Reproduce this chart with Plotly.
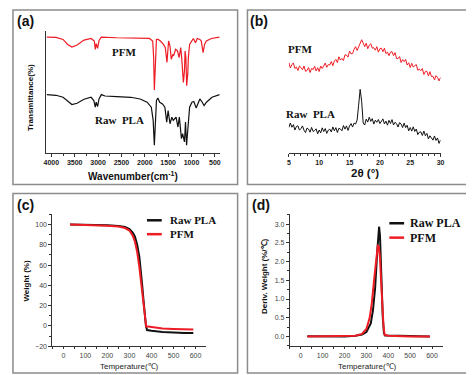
import plotly.graph_objects as go

W, H = 474, 375
RED = "#ee1c24"
BLACK = "#111111"
SANS = "Liberation Sans, Arial, sans-serif"
SERIF = "Liberation Serif, Times New Roman, serif"

# ---------------- (a) FTIR ----------------
ftir_pla_wn = [4100, 3900, 3750, 3650, 3560, 3450, 3300, 3150, 3090, 3060, 3040, 3010, 2980, 2930,
               2850, 2600, 2300, 2100, 1950, 1860, 1820, 1795, 1775, 1750, 1720, 1680, 1620, 1570,
               1530, 1500, 1460, 1420, 1390, 1330, 1290, 1260, 1215, 1190, 1150, 1128, 1105, 1075,
               1040, 990, 950, 900, 870, 820, 770, 730, 680, 560, 400]
ftir_pla_t = [58.7, 58.0, 56.0, 52.0, 48.7, 50.0, 54.0, 56.0, 52.7, 46.0, 51.0, 46.7, 54.3, 58.7,
              57.3, 56.7, 56.0, 54.3, 51.0, 46.0, 32.7, 7.7, 36.0, 52.7, 55.3, 51.0, 49.3, 46.0,
              31.0, 42.7, 29.3, 36.0, 32.7, 36.0, 26.0, 36.0, 14.3, 19.3, 11.0, 31.0, 7.7, 26.0,
              46.0, 51.0, 51.7, 45.3, 49.3, 54.3, 51.0, 47.7, 51.0, 56.0, 58.7]
ftir_pfm_wn = [4100, 3900, 3750, 3650, 3560, 3450, 3300, 3150, 3080, 3060, 3040, 3010, 2980, 2930,
               2600, 2200, 1900, 1830, 1810, 1795, 1775, 1750, 1715, 1665, 1600, 1560, 1525, 1490,
               1460, 1432, 1400, 1384, 1340, 1300, 1265, 1230, 1210, 1173, 1150, 1137, 1120, 1103,
               1080, 1067, 1040, 1000, 960, 913, 877, 820, 790, 751, 720, 681, 575, 400]
ftir_pfm_t = [116.7, 116.3, 114.3, 109.3, 106.7, 108.7, 113.7, 115.3, 112.7, 104.3, 110.0, 105.3, 113.3, 116.7,
              116.0, 116.0, 115.3, 112.7, 96.0, 63.3, 96.0, 114.3, 114.3, 112.7, 109.3, 106.0, 91.0, 112.7,
              107.7, 94.3, 99.3, 97.7, 104.3, 102.7, 96.0, 106.0, 96.0, 71.0, 82.7, 102.7, 96.0, 67.7,
              79.3, 96.0, 109.3, 112.7, 115.3, 111.0, 115.3, 114.3, 112.7, 101.0, 109.3, 112.7, 115.3, 116.7]
ftir_ticks = [4000, 3500, 3000, 2500, 2000, 1500, 1000, 500]

# ---------------- (b) XRD ----------------
XRD_START = 5.0
XRD_STEP = 0.25
xrd_pfm = [91, 85.5, 89, 90.5, 85, 86.5, 83, 87.5, 86, 83.8, 87.5, 82.2, 83, 86, 81, 85, 84, 87.2, 82.5, 85.8,
           82, 87.5, 85, 87.8, 90.5, 86.2, 89, 88.5, 92, 87.8, 92.5, 94.2, 91, 96.8, 93.5, 95.2, 93, 98.8, 98.5, 96.5,
           102.5, 99.8, 100, 104.5, 107, 103.2, 107.5, 111.8, 114, 110.5, 107, 110.5, 105, 108.5, 110, 105.5, 106, 103.5, 107, 101.5,
           105, 105.5, 102, 105.5, 100, 101.5, 98, 101.5, 102, 98, 101, 95, 95, 97, 91, 94, 92, 94.2, 88.5, 90.8,
           86, 90.2, 86.5, 87.8, 89, 83.2, 84.5, 82.8, 85, 79, 82, 82.2, 77.5, 81.8, 77, 77.2, 73.5, 77.8, 76, 72.5, 76]
xrd_pla = [25.5, 30.1, 25.8, 28.4, 23, 26.6, 27.2, 22.9, 24.5, 27.1, 22.8, 20.4, 25, 23.9, 20.8, 25.6, 21.5, 22.4, 24.2, 19.1,
           23, 20.1, 25.2, 21.4, 24.5, 19.6, 22.8, 23.9, 21, 26.1, 22.2, 25.4, 20.5, 24.8, 24, 22.2, 27.5, 23.9, 27.2, 22.6,
           27, 29.5, 26, 30, 29, 33, 48, 64, 52, 30, 28, 34, 31, 35.9, 31.7, 34.5, 29, 32.9, 30.8, 33.6,
           29.5, 31.4, 34.2, 29.1, 32, 27.9, 32.8, 29.6, 33.5, 28.1, 30.8, 29.4, 26, 30.5, 29, 25.5, 30, 25.4, 27.8, 22.1,
           25.5, 21.9, 26.2, 21.6, 24, 18.4, 20.8, 21.1, 17.5, 21.9, 17.2, 19.6, 14, 17.2, 15.5, 12.8, 17, 12.5, 15, 9.5, 13]
xrd_2theta = [XRD_START + XRD_STEP * i for i in range(len(xrd_pfm))]
xrd_ticks = [5, 10, 15, 20, 25, 30]

# ---------------- (c) TGA ----------------
tga_pla_T = [30, 100, 200, 250, 280, 300, 315, 325, 335, 345, 352, 358, 364, 370, 375, 380, 400, 450, 500, 550, 590]
tga_pla_w = [100, 99.8, 99.2, 98.5, 97.5, 95.5, 92, 88, 80, 68, 55, 40, 25, 10, 0, -4, -4.8, -6, -6.8, -7, -7]
tga_pfm_T = [30, 100, 200, 250, 280, 300, 315, 325, 335, 345, 352, 358, 364, 370, 376, 385, 420, 450, 500, 550, 590]
tga_pfm_w = [100, 99.6, 98.8, 98, 96.5, 94, 89, 83, 73, 58, 45, 32, 18, 6, -0.5, -0.5, -1.5, -2.5, -3, -3.2, -3.5]
tga_yticks = [-20, 0, 20, 40, 60, 80, 100]
temp_ticks = [0, 100, 200, 300, 400, 500, 600]

# ---------------- (d) DTG ----------------
dtg_pla_T = [30, 100, 160, 200, 250, 280, 300, 320, 330, 340, 350, 355, 358, 362, 366, 370, 375, 380, 385, 450, 460, 500, 590]
dtg_pla_d = [0.01, 0.0, 0.01, 0.0, 0.02, 0.05, 0.12, 0.35, 0.7, 1.3, 2.3, 2.8, 2.93, 2.7, 2.0, 1.2, 0.5, 0.1, 0.03, 0.02, 0.02, 0.0, 0.0]
dtg_pfm_T = [30, 100, 200, 250, 280, 300, 315, 325, 335, 345, 352, 357, 362, 367, 372, 378, 383, 400, 500, 590]
dtg_pfm_d = [0.0, 0.0, 0.0, 0.02, 0.07, 0.2, 0.5, 0.9, 1.5, 2.1, 2.42, 2.4, 2.1, 1.5, 0.9, 0.3, 0.05, 0.02, 0.0, 0.0]
dtg_yticks = [0.0, 0.5, 1.0, 1.5, 2.0, 2.5, 3.0]


def fx(p):
    return p / W


def fy(p):
    return 1 - p / H


fig = go.Figure()
# (a)
fig.add_trace(go.Scatter(x=ftir_pfm_wn, y=ftir_pfm_t, mode="lines", line=dict(color=RED, width=1.2),
                         xaxis="x", yaxis="y", showlegend=False))
fig.add_trace(go.Scatter(x=ftir_pla_wn, y=ftir_pla_t, mode="lines", line=dict(color=BLACK, width=1.2),
                         xaxis="x", yaxis="y", showlegend=False))
# (b)
fig.add_trace(go.Scatter(x=xrd_2theta, y=xrd_pfm, mode="lines", line=dict(color=RED, width=1),
                         xaxis="x2", yaxis="y2", showlegend=False))
fig.add_trace(go.Scatter(x=xrd_2theta, y=xrd_pla, mode="lines", line=dict(color=BLACK, width=1),
                         xaxis="x2", yaxis="y2", showlegend=False))
# (c)
fig.add_trace(go.Scatter(x=tga_pla_T, y=tga_pla_w, mode="lines", line=dict(color=BLACK, width=2),
                         xaxis="x3", yaxis="y3", showlegend=False))
fig.add_trace(go.Scatter(x=tga_pfm_T, y=tga_pfm_w, mode="lines", line=dict(color=RED, width=2),
                         xaxis="x3", yaxis="y3", showlegend=False))
# (d)
fig.add_trace(go.Scatter(x=dtg_pla_T, y=dtg_pla_d, mode="lines", line=dict(color=BLACK, width=2),
                         xaxis="x4", yaxis="y4", showlegend=False))
fig.add_trace(go.Scatter(x=dtg_pfm_T, y=dtg_pfm_d, mode="lines", line=dict(color=RED, width=2),
                         xaxis="x4", yaxis="y4", showlegend=False))

bold_tick = dict(family=SANS, size=7, color="#222", weight="bold")
thin_tick = dict(family=SANS, size=7, color="#444")
common = dict(showgrid=False, zeroline=False, showline=True, linecolor="#333", linewidth=1,
              ticks="outside", tickwidth=1, tickcolor="#333")

fig.update_layout(
    width=W, height=H, margin=dict(l=0, r=0, t=0, b=0),
    paper_bgcolor="white", plot_bgcolor="white",
    xaxis=dict(domain=[fx(36), fx(212)], range=[4105, 392], anchor="y", tickvals=ftir_ticks,
               ticklen=3, tickfont=bold_tick, minor=dict(ticks="outside", ticklen=2, dtick=250, tickcolor="#333"),
               **common),
    yaxis=dict(domain=[fy(146), fy(23)], range=[0, 123], anchor="x", showticklabels=False,
               showgrid=False, zeroline=False, showline=True, linecolor="#333", linewidth=1, ticks=""),
    xaxis2=dict(domain=[fx(282), fx(436)], range=[5, 30], anchor="y2", tickvals=xrd_ticks,
                ticklen=3, tickfont=bold_tick, minor=dict(ticks="outside", ticklen=2, dtick=1, tickcolor="#333"),
                **common),
    yaxis2=dict(domain=[fy(146), fy(23)], range=[0, 123], anchor="x2", visible=False),
    xaxis3=dict(domain=[fx(42), fx(198)], range=[-50, 648], anchor="y3", tickvals=temp_ticks,
                ticklen=2, tickfont=thin_tick, minor=dict(ticks="outside", ticklen=1.5, dtick=50, tickcolor="#333"),
                **common),
    yaxis3=dict(domain=[fy(341), fy(208)], range=[-20, 110], anchor="x3", tickvals=tga_yticks,
                ticklen=3, tickfont=thin_tick, minor=dict(ticks="outside", ticklen=2, dtick=10, tickcolor="#333"),
                **common),
    xaxis4=dict(domain=[fx(283), fx(438)], range=[-50, 648], anchor="y4", tickvals=temp_ticks,
                ticklen=2, tickfont=thin_tick, minor=dict(ticks="outside", ticklen=1.5, dtick=50, tickcolor="#333"),
                **common),
    yaxis4=dict(domain=[fy(341), fy(208)], range=[-0.26, 3.26], anchor="x4", tickvals=dtg_yticks,
                ticktext=["0.0", "0.5", "1.0", "1.5", "2.0", "2.5", "3.0"],
                ticklen=3, tickfont=thin_tick, minor=dict(ticks="outside", ticklen=2, dtick=0.25, tickcolor="#333"),
                **common),
)

# panel frames
frames = [(2, 2, 230, 178), (240, 2, 471, 178), (2, 187, 230, 368), (240, 187, 471, 368)]
for x0, y0, x1, y1 in frames:
    fig.add_shape(type="rect", xref="paper", yref="paper", x0=fx(x0), y0=fy(y1), x1=fx(x1), y1=fy(y0),
                  line=dict(color="#8c8c8c", width=1.5), fillcolor="rgba(0,0,0,0)")

# legend samples in (c) and (d)
legend_lines = [(138, 153, 214, BLACK), (138, 153, 228, RED), (384, 399, 217, BLACK), (384, 399, 231.5, RED)]
for x0, x1, y, c in legend_lines:
    fig.add_shape(type="line", xref="paper", yref="paper", x0=fx(x0), x1=fx(x1), y0=fy(y), y1=fy(y),
                  line=dict(color=c, width=2.5))


def ann(text, x, y, size, family=SANS, bold=True, color="#111", angle=0, xanchor="center"):
    fig.add_annotation(text=text, x=fx(x), y=fy(y), xref="paper", yref="paper", showarrow=False,
                       xanchor=xanchor, yanchor="middle", textangle=angle,
                       font=dict(family=family, size=size, color=color, weight="bold" if bold else "normal"))


# panel letters
ann("(a)", 4, 13, 14, xanchor="left")
ann("(b)", 241, 13, 14, xanchor="left")
ann("(c)", 4, 199, 14, xanchor="left")
ann("(d)", 243, 199, 14, xanchor="left")

# (a)
ann("PFM", 115, 44, 11, family=SERIF)
ann("Raw  PLA", 110, 113, 11, family=SERIF)
ann("Transmittance(%)", 20, 90, 8, angle=-90)
ann("Wavenumber(cm<sup>-1</sup>)", 124, 169, 10)
# (b)
ann("PFM", 293, 41, 11, family=SERIF)
ann("Raw  PLA", 304, 107, 11, family=SERIF)
ann("2θ (°)", 359, 166, 11.5)
# (c)
ann("Raw PLA", 159, 214, 11, family=SERIF, xanchor="left")
ann("PFM", 159, 228, 11, family=SERIF, xanchor="left")
ann("Weight (%)", 16, 275, 8, angle=-90)
ann("Temperature(℃)", 120, 361, 8, bold=False, color="#222")
# (d)
ann("Raw PLA", 403, 217, 12, family=SERIF, xanchor="left")
ann("PFM", 403, 232, 12, family=SERIF, xanchor="left")
ann("Deriv. Weight (%/℃)", 258, 270, 8, angle=-90)
ann("Temperature(℃)", 362, 361, 8, bold=False, color="#222")

fig.write_html("out.html")
